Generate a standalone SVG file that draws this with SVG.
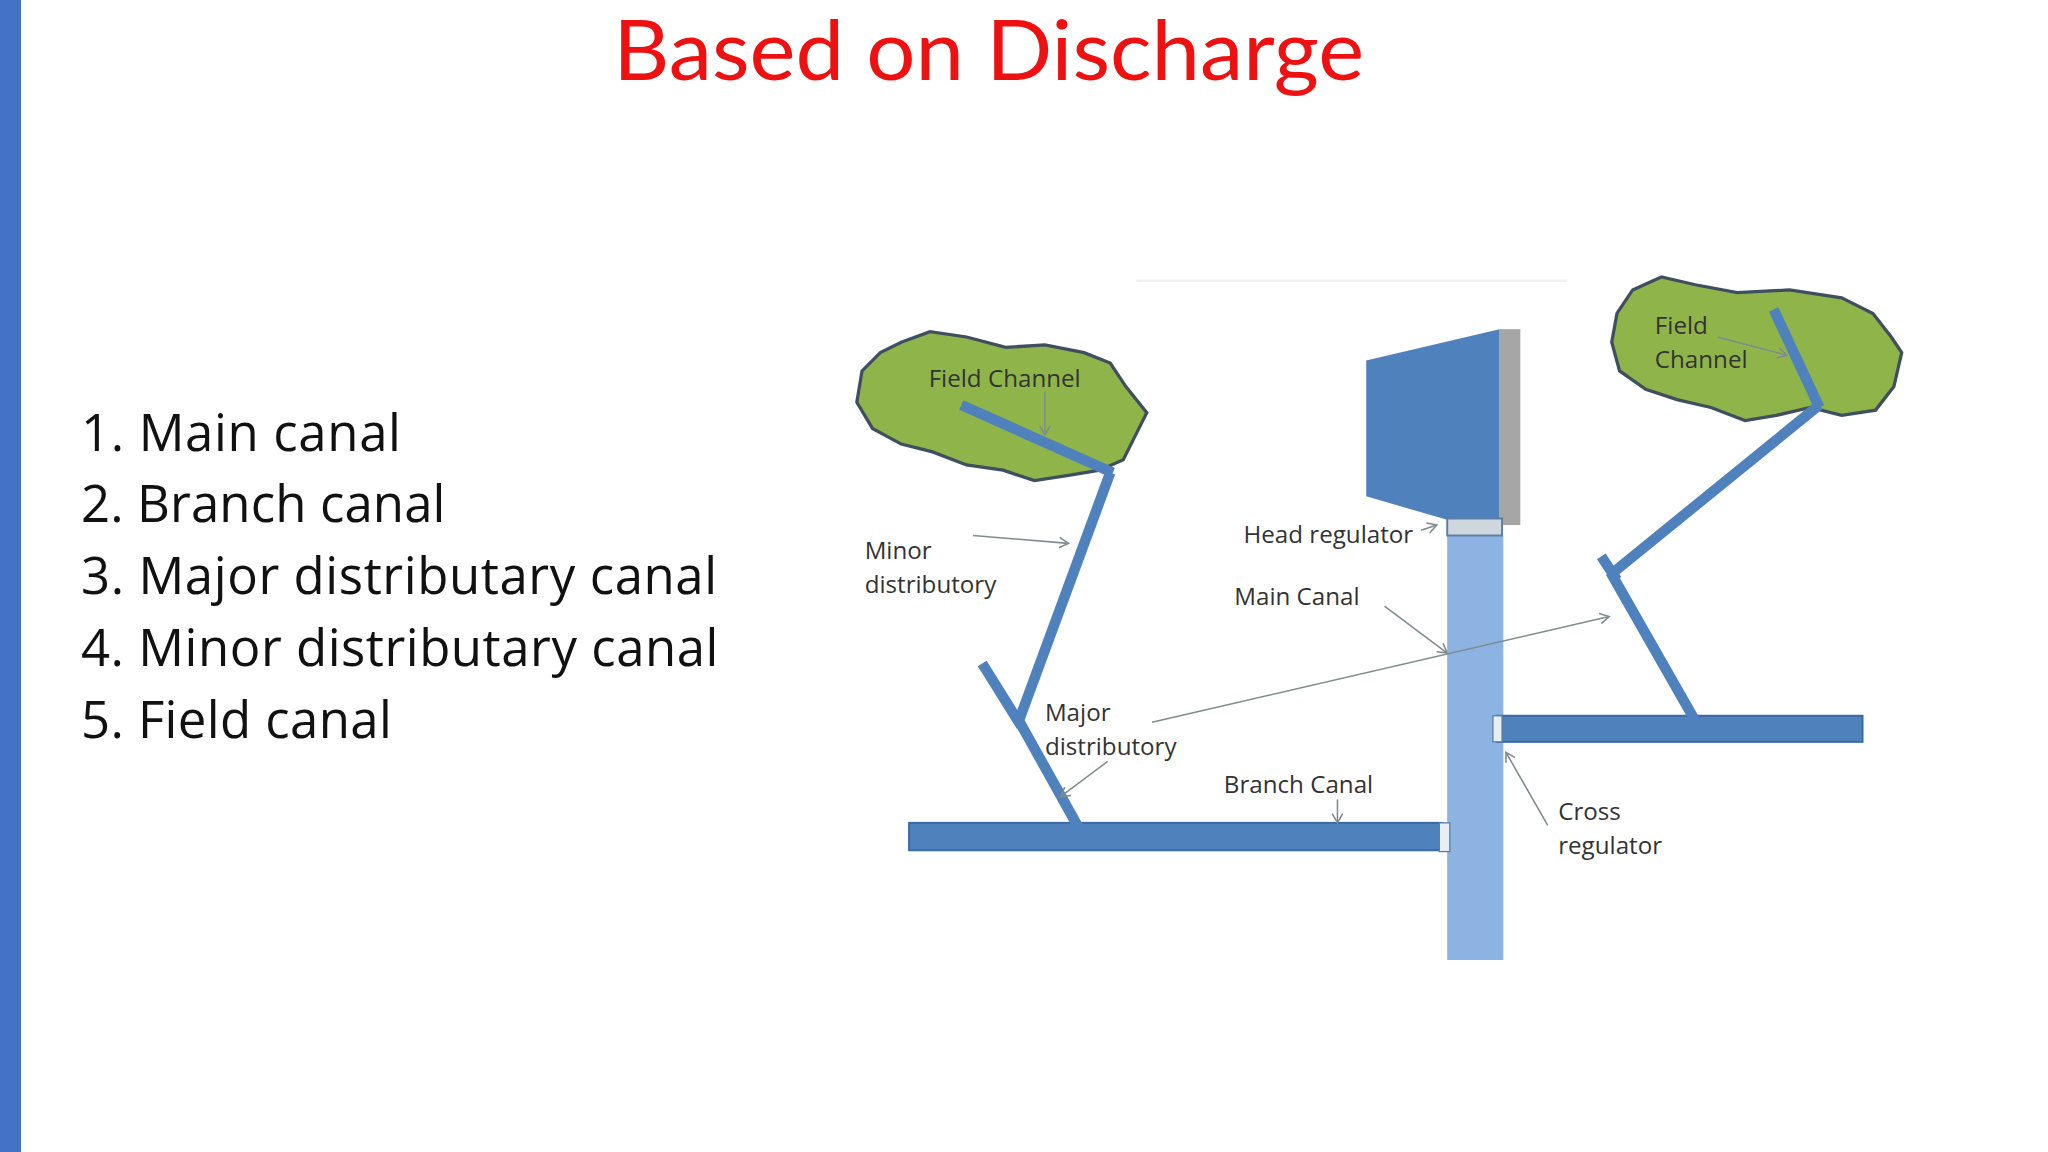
<svg xmlns="http://www.w3.org/2000/svg" width="2048" height="1152" viewBox="0 0 2048 1152">
<defs>
<style>
.lbl{font-family:"Open Sans","DejaVu Sans",sans-serif;font-size:18.5px;fill:#333}
.lst{font-family:"Open Sans","Liberation Sans",sans-serif;font-size:39px;fill:#111}
.can{fill:#4f81bd;stroke:#3a6aa6;stroke-width:1.5}
.ln{stroke:#4f81bd;stroke-width:8;stroke-linecap:butt}
.ar{stroke:#7f8c8d;stroke-width:1.2;fill:none;marker-end:url(#ah)}
.fld{fill:#8fb54a;stroke:#3f4f5f;stroke-width:2.5}
</style>
<marker id="ah" markerWidth="10" markerHeight="10" refX="8" refY="5" orient="auto" markerUnits="userSpaceOnUse"><path d="M1,1 L8,5 L1,9" fill="none" stroke="#7f8c8d" stroke-width="1.2"/></marker>
</defs>
<rect width="2048" height="1152" fill="#ffffff"/>
<rect x="0" y="0" width="21" height="1152" fill="#4472c4"/>
<g transform="scale(1.30612)">
<text x="757" y="61" text-anchor="middle" font-family="Lato,'Open Sans',sans-serif" font-size="64" fill="#ee1111" textLength="575" lengthAdjust="spacingAndGlyphs">Based on Discharge</text>
<g id="list">
<text class="lst" x="62" y="345" textLength="245">1. Main canal</text>
<text class="lst" x="62" y="400" textLength="279">2. Branch canal</text>
<text class="lst" x="62" y="455" textLength="487">3. Major distributary canal</text>
<text class="lst" x="62" y="510" textLength="488">4. Minor distributary canal</text>
<text class="lst" x="62" y="565" textLength="238">5. Field canal</text>
</g>
<line x1="870" y1="215" x2="1200" y2="215" stroke="#eef0f2" stroke-width="2"/>
<g id="fieldL"><path class="fld" d="M690,262 L712,254 L740,258 L770,266 L800,264 L830,270 L850,278 L862,296 L878,316 L870,332 L860,352 L842,360 L818,364 L792,368 L768,360 L740,356 L714,346 L690,340 L668,328 L656,308 L660,284 L674,270 Z"/></g>
<g id="fieldR"><path class="fld" d="M1250,222 L1272,212 L1298,218 L1330,224 L1370,222 L1410,228 L1434,240 L1448,258 L1456,270 L1450,296 L1436,314 L1410,318 L1386,312 L1360,318 L1336,322 L1310,312 L1284,306 L1260,298 L1240,284 L1234,262 L1238,240 Z"/></g>
<g id="reservoir">
<rect x="1148" y="252" width="16" height="150" fill="#a6a6a6"/>
<polygon points="1046,276 1148,252 1148,398 1108,398 1046,380" fill="#4f81bd"/>
</g>
<g id="mainCanal"><rect x="1108" y="410" width="43" height="325" fill="#8db3e2"/></g>
<g id="headReg"><rect x="1108" y="397" width="42" height="13" fill="#d0d6de" stroke="#5a7fa8" stroke-width="1.5"/></g>
<g id="branchL"><rect class="can" x="696" y="630" width="408" height="21"/><rect x="1102" y="630" width="8" height="22" fill="#e8eef5" stroke="#5a7fa8"/></g>
<g id="branchR"><rect class="can" x="1146" y="548" width="280" height="20"/><rect x="1143" y="548" width="7" height="20" fill="#e8eef5" stroke="#5a7fa8"/></g>
<g id="distL">
<line class="ln" x1="752" y1="508" x2="782" y2="556"/>
<line class="ln" x1="778" y1="548" x2="826" y2="634"/>
<line class="ln" x1="780" y1="552" x2="850" y2="362"/>
<line class="ln" x1="736" y1="310" x2="852" y2="362"/>
</g>
<g id="distR">
<line class="ln" x1="1226" y1="426" x2="1238" y2="444"/>
<line class="ln" x1="1233" y1="438" x2="1298" y2="552"/>
<line class="ln" x1="1233" y1="440" x2="1393" y2="310"/>
<line class="ln" x1="1358" y1="237" x2="1393" y2="312"/>
</g>
<g id="connectors">
<path class="ar" d="M745,410 L818,416"/>
<path class="ar" d="M800,300 L800,333"/>
<path class="ar" d="M848,583 L812,610"/>
<path class="ar" d="M1024,612 L1024,630"/>
<path class="ar" d="M1088,406 L1100,402"/>
<path class="ar" d="M1060,464 L1108,500"/>
<path class="ar" d="M882,553 L1232,472"/>
<path class="ar" d="M1185,632 L1153,576"/>
<path class="ar" d="M1315,258 L1368,272"/>
</g>
<g id="labels">
<text class="lbl" x="711" y="296">Field Channel</text>
<text class="lbl" x="662" y="428">Minor</text>
<text class="lbl" x="662" y="454">distributory</text>
<text class="lbl" x="800" y="552">Major</text>
<text class="lbl" x="800" y="578">distributory</text>
<text class="lbl" x="937" y="607">Branch Canal</text>
<text class="lbl" x="952" y="416">Head regulator</text>
<text class="lbl" x="945" y="463">Main Canal</text>
<text class="lbl" x="1193" y="628">Cross</text>
<text class="lbl" x="1193" y="654">regulator</text>
<text class="lbl" x="1267" y="256">Field</text>
<text class="lbl" x="1267" y="282">Channel</text>
</g>
</g>
</svg>
